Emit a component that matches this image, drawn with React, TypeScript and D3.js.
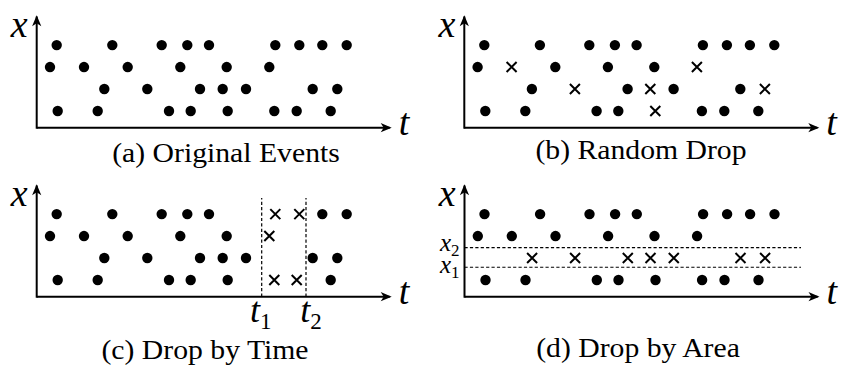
import React, { useEffect, useRef } from 'react';
import * as d3 from 'd3';

// event times along t, one list per x level
const level1Times = [21, 61, 132.3, 154, 191, 237.6, 260, 294];
const level2Times = [67.6, 110.6, 163.3, 186, 209.3, 276, 300.6];
const level3Times = [13.3, 47.3, 91, 143.6, 190, 232.6];
const level4Times = [20, 75.6, 125, 150.6, 172.3, 238.6, 262.6, 285.6, 310];
const levelValues = [1, 2, 3, 4];

// (b) events removed at random: [level, time]
const randomDropped = [[3, 47.3], [3, 232.6], [2, 110.6], [2, 186], [2, 300.6], [1, 191]];
// (c) time window t1..t2
const timeWindow = [225, 269.3];
const timeLabels = ['1', '2'];
// (d) area band x1..x2
const areaBand = [1.58, 2.47];
const areaLabels = ['1', '2'];

const panelTitles = ['(a) Original Events', '(b) Random Drop', '(c) Drop by Time', '(d) Drop by Area'];
const panelModes = ['none', 'random', 'time', 'area'];

const FONT = '"Liberation Serif", "Times New Roman", serif';

const W = 846;
const H = 373;

// layout of each panel: axis origin, caption position
const panelLayout = [
  { ox: 36.7, oy: 127.7, titleX: 226, titleY: 162 },
  { ox: 464.3, oy: 127.7, titleX: 641, titleY: 159 },
  { ox: 36.7, oy: 296.7, titleX: 205, titleY: 359 },
  { ox: 464.5, oy: 296.7, titleX: 638, titleY: 357 },
];

const arrowHead = 'M0,0 L-11,-4.6 L-8,0 L-11,4.6 Z';

const App = () => {
  const svgRef = useRef<SVGSVGElement | null>(null);

  useEffect(() => {
    if (!svgRef.current) return;
    const svg = d3.select(svgRef.current);
    svg.selectAll('*').remove();

    const timesByLevel = [level1Times, level2Times, level3Times, level4Times];
    const events = levelValues.flatMap((lv, i) => timesByLevel[i].map(t => ({ level: lv, t })));

    const isDropped = (mode: string, e: { level: number; t: number }) => {
      if (mode === 'random') return randomDropped.some(([l, t]) => l === e.level && t === e.t);
      if (mode === 'time') return e.t >= timeWindow[0] && e.t <= timeWindow[1];
      if (mode === 'area') return e.level >= areaBand[0] && e.level <= areaBand[1];
      return false;
    };

    panelLayout.forEach((p, pi) => {
      const mode = panelModes[pi];
      const g = svg.append('g');

      const tScale = d3.scaleLinear().domain([0, 355]).range([p.ox, p.ox + 355]);
      const xScale = d3.scaleLinear().domain([0.24, 5.36]).range([p.oy, p.oy - 112.5]);

      // dashed guides (under the marks)
      if (mode === 'time') {
        g.selectAll('line.tw')
          .data(timeWindow)
          .enter()
          .append('line')
          .attr('x1', d => tScale(d))
          .attr('x2', d => tScale(d))
          .attr('y1', xScale(0.24))
          .attr('y2', xScale(4.73))
          .attr('stroke', '#000')
          .attr('stroke-width', 1.2)
          .attr('stroke-dasharray', '3.2,2.2');
        g.selectAll('text.tw')
          .data(timeWindow)
          .enter()
          .append('text')
          .attr('x', (d, i) => tScale(d) + (i === 0 ? -1 : 5))
          .attr('y', p.oy + 25)
          .attr('text-anchor', 'middle')
          .attr('font-family', FONT)
          .attr('fill', '#000')
          .each(function (d, i) {
            const t = d3.select(this);
            t.append('tspan').attr('font-style', 'italic').attr('font-size', 36).text('t');
            t.append('tspan').attr('font-size', 23).attr('dy', 7).text(timeLabels[i]);
          });
      }
      if (mode === 'area') {
        g.selectAll('line.ab')
          .data(areaBand)
          .enter()
          .append('line')
          .attr('x1', tScale(0))
          .attr('x2', tScale(336.5))
          .attr('y1', d => xScale(d))
          .attr('y2', d => xScale(d))
          .attr('stroke', '#000')
          .attr('stroke-width', 1.2)
          .attr('stroke-dasharray', '3.2,2.2');
        g.selectAll('text.ab')
          .data(areaBand)
          .enter()
          .append('text')
          .attr('x', p.ox - 5)
          .attr('y', (d, i) => xScale(d) + (i === 0 ? 5.5 : 3))
          .attr('text-anchor', 'end')
          .attr('font-family', FONT)
          .attr('fill', '#000')
          .each(function (d, i) {
            const t = d3.select(this);
            t.append('tspan').attr('font-style', 'italic').attr('font-size', 25).text('x');
            t.append('tspan').attr('font-size', 17).attr('dy', 5).text(areaLabels[i]);
          });
      }

      // axes
      g.append('line')
        .attr('x1', tScale(0))
        .attr('x2', tScale(353))
        .attr('y1', p.oy)
        .attr('y2', p.oy)
        .attr('stroke', '#000')
        .attr('stroke-width', 2);
      g.append('line')
        .attr('x1', p.ox)
        .attr('x2', p.ox)
        .attr('y1', p.oy + 1)
        .attr('y2', xScale(5.3))
        .attr('stroke', '#000')
        .attr('stroke-width', 2);
      g.append('path')
        .attr('d', arrowHead)
        .attr('fill', '#000')
        .attr('transform', `translate(${tScale(355)},${p.oy})`);
      g.append('path')
        .attr('d', arrowHead)
        .attr('fill', '#000')
        .attr('transform', `translate(${p.ox},${xScale(5.36)}) rotate(-90)`);

      // axis names
      g.append('text')
        .attr('x', p.ox - 9)
        .attr('y', p.oy - 91)
        .attr('text-anchor', 'end')
        .attr('font-family', FONT)
        .attr('font-style', 'italic')
        .attr('font-size', 38)
        .attr('fill', '#000')
        .text('x');
      g.append('text')
        .attr('x', tScale(362))
        .attr('y', p.oy + 6.8)
        .attr('font-family', FONT)
        .attr('font-style', 'italic')
        .attr('font-size', 38)
        .attr('fill', '#000')
        .text('t');

      // events: kept ones as dots, dropped ones as crosses
      const kept = events.filter(e => !isDropped(mode, e));
      const dropped = events.filter(e => isDropped(mode, e));

      g.selectAll('circle.ev')
        .data(kept)
        .enter()
        .append('circle')
        .attr('cx', d => tScale(d.t))
        .attr('cy', d => xScale(d.level))
        .attr('r', 5.2)
        .attr('fill', '#000');

      const s = 5;
      g.selectAll('path.drop')
        .data(dropped)
        .enter()
        .append('path')
        .attr('d', d => {
          const cx = tScale(d.t);
          const cy = xScale(d.level);
          return `M${cx - s},${cy - s}L${cx + s},${cy + s}M${cx - s},${cy + s}L${cx + s},${cy - s}`;
        })
        .attr('stroke', '#000')
        .attr('stroke-width', 2)
        .attr('fill', 'none');

      // caption (the source figure is slightly stretched horizontally)
      g.append('text')
        .attr('transform', `translate(${p.titleX},${p.titleY}) scale(1.1,1)`)
        .attr('text-anchor', 'middle')
        .attr('font-family', FONT)
        .attr('font-size', 27)
        .attr('fill', '#000')
        .text(panelTitles[pi]);
    });
  }, []);

  return (
    <div style={{ position: 'absolute', left: 0, top: 0, width: W, height: H, background: '#fff' }}>
      <svg ref={svgRef} width={W} height={H} style={{ display: 'block' }} />
    </div>
  );
};

export default App;
